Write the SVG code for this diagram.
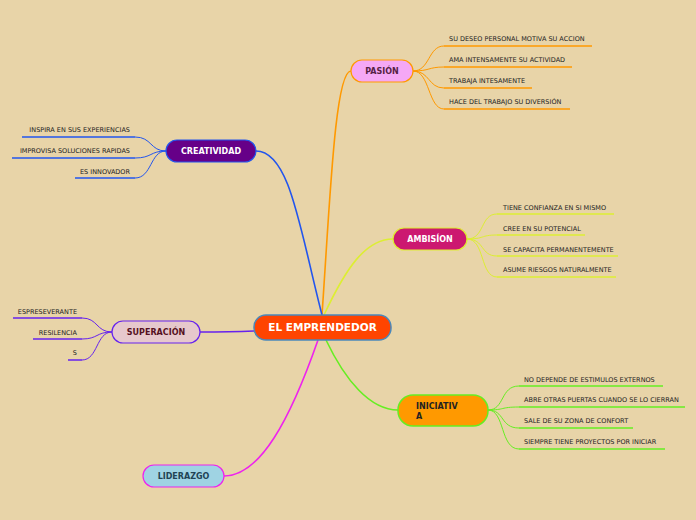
<svg xmlns="http://www.w3.org/2000/svg" width="696" height="520" viewBox="0 0 696 520">
<style>
text{font-family:"DejaVu Sans","Liberation Sans",sans-serif}
.l{font-size:6.5px;fill:#222}
.n{font-size:8px;font-weight:bold}
.c{fill:none}
.t{fill:none;stroke-width:1}
</style>
<rect width="696" height="520" fill="#e8d4a8"/>
<g id="connectors">
<path class="c" d="M322 315 C330 200 335 71 351 71" stroke="#ff9900" stroke-width="1.6"/>
<path class="c" d="M322 315 C300 230 290 151 256 151" stroke="#2255ee" stroke-width="1.6"/>
<path class="c" d="M324 315 C345 270 365 239 393 239" stroke="#ddee33" stroke-width="1.6"/>
<path class="c" d="M326 340 C345 380 370 410 398 410" stroke="#66ee22" stroke-width="1.6"/>
<path class="c" d="M254 331 C230 332 215 332 200 332" stroke="#6622ee" stroke-width="1.6"/>
<path class="c" d="M318 340 C290 420 260 476 224 476" stroke="#ee22ee" stroke-width="1.6"/>
<g stroke="#ff9900" class="t">
<path d="M413 71 C430 71 428 46 444 46M413 71 C430 71 428 67 444 67M413 71 C430 71 428 88 444 88M413 71 C430 71 428 109 444 109"/>
<path d="M444 46H592M444 67H572M444 88H532M444 109H570" stroke-width="1.6"/>
</g>
<g stroke="#ddee33" class="t">
<path d="M467 239 C485 239 480 214 497 214M467 239 C485 239 480 235 497 235M467 239 C485 239 480 256 497 256M467 239 C485 239 480 277 497 277"/>
<path d="M497 214H614M497 235H585M497 256H618M497 277H616" stroke-width="1.6"/>
</g>
<g stroke="#66ee22" class="t">
<path d="M488 410 C505 410 500 386 519 386M488 410 C505 410 500 407 519 407M488 410 C505 410 500 428 519 428M488 410 C505 410 500 449 519 449"/>
<path d="M519 386H663M519 407H685M519 428H633M519 449H665" stroke-width="1.6"/>
</g>
<g stroke="#2255ee" class="t">
<path d="M166 151 C150 151 152 137 135 137M166 151 C150 151 152 158 135 158M166 151 C150 151 152 178 135 178"/>
<path d="M22 137H135M12 158H135M75 178H135" stroke-width="1.6"/>
</g>
<g stroke="#6622ee" class="t">
<path d="M112 332 C96 332 98 318 82 318M112 332 C96 332 98 339 82 339M112 332 C96 332 98 360 82 360"/>
<path d="M13 318H82M33 339H82M68 360H82" stroke-width="1.6"/>
</g>
</g>
<g id="center"><rect x="254" y="315" width="137" height="25" rx="12" fill="#ff4400" stroke="#4a88bb" stroke-width="1.5"/><text x="322.5" y="331" text-anchor="middle" font-size="10.5" font-weight="bold" fill="#fff">EL EMPRENDEDOR</text></g>
<g id="pasion"><rect x="351" y="60" width="62" height="22" rx="11" fill="#f5a8f5" stroke="#ff9900" stroke-width="1.2"/><text class="n" x="382" y="74" text-anchor="middle" fill="#552244">PASIÓN</text></g>
<g id="ambision"><rect x="393" y="228" width="74" height="22" rx="11" fill="#cc1870" stroke="#ddee33" stroke-width="1.2"/><text class="n" x="430" y="242" text-anchor="middle" fill="#fff">AMBISÍON</text></g>
<g id="iniciativa"><rect x="398" y="395" width="90" height="31" rx="15" fill="#ff9900" stroke="#66ee22" stroke-width="1.5"/><text class="n" x="416" y="409" fill="#222">INICIATIV</text><text class="n" x="416" y="419" fill="#222">A</text></g>
<g id="creatividad"><rect x="166" y="140" width="90" height="22" rx="11" fill="#660088" stroke="#2255ee" stroke-width="1.2"/><text class="n" x="211" y="154" text-anchor="middle" fill="#fff">CREATIVIDAD</text></g>
<g id="superacion"><rect x="112" y="321" width="88" height="22" rx="11" fill="#e6c8cc" stroke="#6622ee" stroke-width="1.2"/><text class="n" x="156" y="335" text-anchor="middle" fill="#551122">SUPERACIÓN</text></g>
<g id="liderazgo"><rect x="143" y="465" width="81" height="22" rx="11" fill="#9fd3e3" stroke="#ee22ee" stroke-width="1.2"/><text class="n" x="183.5" y="479" text-anchor="middle" fill="#224455">LIDERAZGO</text></g>
<g id="leaves">
<text class="l" x="449" y="41">SU DESEO PERSONAL MOTIVA SU ACCION</text>
<text class="l" x="449" y="62">AMA INTENSAMENTE SU ACTIVIDAD</text>
<text class="l" x="449" y="83">TRABAJA INTESAMENTE</text>
<text class="l" x="449" y="104">HACE DEL TRABAJO SU DIVERSIÓN</text>
<text class="l" x="503" y="210">TIENE CONFIANZA EN SI MISMO</text>
<text class="l" x="503" y="231">CREE EN SU POTENCIAL</text>
<text class="l" x="503" y="252">SE CAPACITA PERMANENTEMENTE</text>
<text class="l" x="503" y="272">ASUME RIESGOS NATURALMENTE</text>
<text class="l" x="524" y="382">NO DEPENDE DE  ESTIMULOS EXTERNOS</text>
<text class="l" x="524" y="402">ABRE OTRAS PUERTAS CUANDO SE LO CIERRAN</text>
<text class="l" x="524" y="423">SALE DE SU ZONA DE CONFORT</text>
<text class="l" x="524" y="444">SIEMPRE TIENE PROYECTOS POR INICIAR</text>
<text class="l" x="130" y="132" text-anchor="end">INSPIRA EN SUS EXPERIENCIAS</text>
<text class="l" x="130" y="153" text-anchor="end">IMPROVISA SOLUCIONES RAPIDAS</text>
<text class="l" x="130" y="174" text-anchor="end">ES INNOVADOR</text>
<text class="l" x="77" y="314" text-anchor="end">ESPRESEVERANTE</text>
<text class="l" x="77" y="335" text-anchor="end">RESILENCIA</text>
<text class="l" x="77" y="355" text-anchor="end">S</text>
</g>
</svg>
